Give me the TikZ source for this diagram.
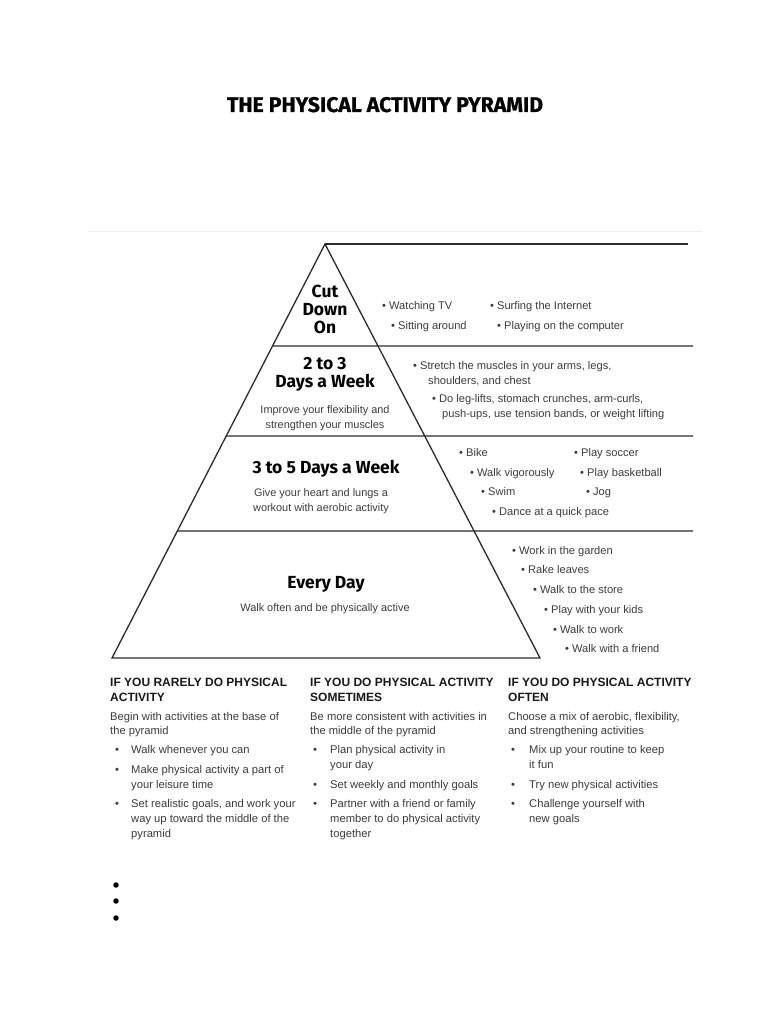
\documentclass[tikz,border=0pt]{standalone}
\usepackage{fontspec}
\setmainfont{Liberation Sans}
\newfontfamily\headfont{Fira Sans}
\newfontfamily\titlefont[BoldFeatures={FakeBold=0.8}]{Fira Sans}
\usetikzlibrary{calc}
\definecolor{ink}{HTML}{2B2B2B}
\definecolor{txt}{HTML}{3C3C3C}
\definecolor{faint}{HTML}{EEEEEE}
\begin{document}
\begin{tikzpicture}[x=1pt,y=-1pt,
 pline/.style={draw=ink,line width=1.3pt},
 head/.style={font=\headfont\bfseries\fontsize{17.5}{18}\selectfont,text=black,inner sep=0,anchor=base},
 sub/.style={font=\fontsize{10.9}{13}\selectfont,text=txt,inner sep=0,anchor=base},
 item/.style={font=\fontsize{11.1}{13}\selectfont,text=txt,inner sep=0,anchor=base west},
 colhead/.style={font=\bfseries\fontsize{12}{14}\selectfont,text=black!90,inner sep=0,anchor=base west},
 coltext/.style={font=\fontsize{11.2}{13}\selectfont,text=txt,inner sep=0,anchor=base west},
 bigdot/.style={circle,fill=black,inner sep=0,minimum size=5.5pt}
]
\fill[white] (0,0) rectangle (768,1024);
\useasboundingbox (0,0) rectangle (768,1024);

% title
\node[anchor=base,inner sep=0] (title) at (385,112) {\resizebox{316pt}{!}{\titlefont\bfseries THE PHYSICAL ACTIVITY PYRAMID}};

% faint rule
\coordinate (f1) at (88,232);
\coordinate (f2) at (702,232);
\draw[faint,line width=1pt] (f1) -- (f2);

% pyramid
\coordinate (apex) at (325,244);
\coordinate (bl) at (112,658);
\coordinate (br) at (540,658);
\coordinate (l1) at ($(apex)!{102/414}!(bl)$);
\coordinate (l2) at ($(apex)!{192/414}!(bl)$);
\coordinate (l3) at ($(apex)!{287/414}!(bl)$);
\coordinate (r0) at (688,244);
\coordinate (r1) at (693,346);
\coordinate (r2) at (693,436);
\coordinate (r3) at (693,531);
\draw[pline,line join=miter] (bl) -- (apex) -- (br) -- cycle;
\draw[pline] (apex) -- (r0);
\draw[pline] (l1) -- (r1);
\draw[pline] (l2) -- (r2);
\draw[pline] (l3) -- (r3);

% level 1
\node[head] (cut) at (325,297) {Cut};
\node[head] (down) at (325,315) {Down};
\node[head] (on) at (325,333) {On};
\node[item] (a1) at (382,309) {\textbullet\ Watching TV};
\node[item] (a2) at (490,309) {\textbullet\ Surfing the Internet};
\node[item] (a3) at (391,329) {\textbullet\ Sitting around};
\node[item] (a4) at (497,329) {\textbullet\ Playing on the computer};

% level 2
\node[head] (h2a) at (325,369) {2 to 3};
\node[head] (h2b) at (325,387) {Days a Week};
\node[sub] (s2a) at (325,413) {Improve your flexibility and};
\node[sub] (s2b) at (325,428) {strengthen your muscles};
\node[item] (b1) at (413,369) {\textbullet\ Stretch the muscles in your arms, legs,};
\node[item] (b2) at (428,384) {shoulders, and chest};
\node[item] (b3) at (432,402) {\textbullet\ Do leg-lifts, stomach crunches, arm-curls,};
\node[item] (b4) at (442,417) {push-ups, use tension bands, or weight lifting};

% level 3
\node[head] (h3) at (326,473) {3 to 5 Days a Week};
\node[sub] (s3a) at (321,496) {Give your heart and lungs a};
\node[sub] (s3b) at (321,511) {workout with aerobic activity};
\node[item] (c1) at (459,456) {\textbullet\ Bike};
\node[item] (c2) at (574,456) {\textbullet\ Play soccer};
\node[item] (c3) at (470,476) {\textbullet\ Walk vigorously};
\node[item] (c4) at (580,476) {\textbullet\ Play basketball};
\node[item] (c5) at (481,495) {\textbullet\ Swim};
\node[item] (c6) at (586,495) {\textbullet\ Jog};
\node[item] (c7) at (492,515) {\textbullet\ Dance at a quick pace};

% level 4
\node[head] (h4) at (326,588) {Every Day};
\node[sub] (s4) at (325,611) {Walk often and be physically active};
\node[item] (d1) at (512,554) {\textbullet\ Work in the garden};
\node[item] (d2) at (521,573) {\textbullet\ Rake leaves};
\node[item] (d3) at (533,593) {\textbullet\ Walk to the store};
\node[item] (d4) at (544,613) {\textbullet\ Play with your kids};
\node[item] (d5) at (553,633) {\textbullet\ Walk to work};
\node[item] (d6) at (565,652) {\textbullet\ Walk with a friend};

% column 1
\node[colhead] (k1a) at (110,686.5) {IF YOU RARELY DO PHYSICAL};
\node[colhead] (k1b) at (110,701.5) {ACTIVITY};
\node[coltext] (t1a) at (110,720) {Begin with activities at the base of};
\node[coltext] (t1b) at (110,734) {the pyramid};
\node[coltext] (u1) at (115,753) {\textbullet};
\node[coltext] (v1) at (131,753) {Walk whenever you can};
\node[coltext] (u2) at (115,773) {\textbullet};
\node[coltext] (v2) at (131,773) {Make physical activity a part of};
\node[coltext] (v3) at (131,788) {your leisure time};
\node[coltext] (u3) at (115,807) {\textbullet};
\node[coltext] (v4) at (131,807) {Set realistic goals, and work your};
\node[coltext] (v5) at (131,822) {way up toward the middle of the};
\node[coltext] (v6) at (131,837) {pyramid};

% column 2
\node[colhead] (k2a) at (310,686.5) {IF YOU DO PHYSICAL ACTIVITY};
\node[colhead] (k2b) at (310,701.5) {SOMETIMES};
\node[coltext] (t2a) at (310,720) {Be more consistent with activities in};
\node[coltext] (t2b) at (310,734) {the middle of the pyramid};
\node[coltext] (w1) at (313,753) {\textbullet};
\node[coltext] (x1) at (330,753) {Plan physical activity in};
\node[coltext] (x2) at (330,768) {your day};
\node[coltext] (w2) at (313,788) {\textbullet};
\node[coltext] (x3) at (330,788) {Set weekly and monthly goals};
\node[coltext] (w3) at (313,807) {\textbullet};
\node[coltext] (x4) at (330,807) {Partner with a friend or family};
\node[coltext] (x5) at (330,822) {member to do physical activity};
\node[coltext] (x6) at (330,837) {together};

% column 3
\node[colhead] (k3a) at (508,686.5) {IF YOU DO PHYSICAL ACTIVITY};
\node[colhead] (k3b) at (508,701.5) {OFTEN};
\node[coltext] (t3a) at (508,720) {Choose a mix of aerobic, flexibility,};
\node[coltext] (t3b) at (508,734) {and strengthening activities};
\node[coltext] (y1) at (511,753) {\textbullet};
\node[coltext] (z1) at (529,753) {Mix up your routine to keep};
\node[coltext] (z2) at (529,768) {it fun};
\node[coltext] (y2) at (511,788) {\textbullet};
\node[coltext] (z3) at (529,788) {Try new physical activities};
\node[coltext] (y3) at (511,807) {\textbullet};
\node[coltext] (z4) at (529,807) {Challenge yourself with};
\node[coltext] (z5) at (529,822) {new goals};

% stray bullets
\node[bigdot] (e1) at (116,885) {};
\node[bigdot] (e2) at (116,901) {};
\node[bigdot] (e3) at (116,918) {};
\end{tikzpicture}
\end{document}
